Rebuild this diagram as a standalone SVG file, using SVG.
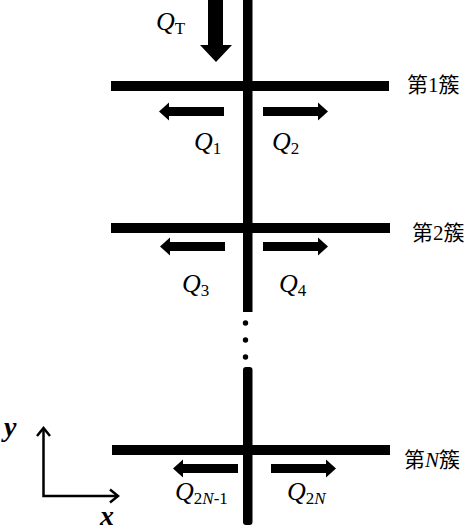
<svg xmlns="http://www.w3.org/2000/svg" width="474" height="532" viewBox="0 0 474 532">
<style>
.bar{fill:#000}
.q{font-family:"Liberation Serif",serif;font-style:italic;font-size:26px;fill:#000}
.sub{font-family:"Liberation Serif",serif;font-style:normal;font-size:17px}
.subi{font-family:"Liberation Serif",serif;font-style:italic;font-size:17px}
.cn{font-family:"Liberation Serif","Noto Sans CJK SC",sans-serif;font-size:21px;fill:#000}
.ax{font-family:"Liberation Serif",serif;font-style:italic;font-weight:bold;font-size:28px;fill:#000}
.axis{stroke:#000;stroke-width:2.5;fill:none}
</style>
<defs>
<path id="arrL" d="M0,0 L10,-9 L10,-4.5 L65,-4.5 L65,4.5 L10,4.5 L10,9 Z"/>
<path id="arrR" d="M65,0 L55,-9 L55,-4.5 L0,-4.5 L0,4.5 L55,4.5 L55,9 Z"/>
</defs>
<g id="connectors">
<rect class="bar" x="243" y="0" width="9.5" height="312"/>
<rect class="bar" x="243" y="367" width="9.5" height="158" rx="3"/>
<circle cx="245.5" cy="323" r="2.7"/>
<circle cx="245.5" cy="340" r="2.7"/>
<circle cx="245.5" cy="357" r="2.7"/>
</g>
<g id="inflow">
<path d="M208,0 L223,0 L223,45 L232,45 L216,62 L200,45 L208,45 Z"/>
<text class="q" x="156" y="30">Q<tspan class="sub" dy="4">T</tspan></text>
</g>
<g id="cluster1">
<rect class="bar" x="111" y="81" width="278" height="10"/>
<use href="#arrL" x="159" y="111.5"/>
<use href="#arrR" x="263" y="111.5"/>
<text class="q" x="194" y="150">Q<tspan class="sub" dy="4">1</tspan></text>
<text class="q" x="272" y="150">Q<tspan class="sub" dy="4">2</tspan></text>
<text class="cn" x="407" y="92">第1簇</text>
</g>
<g id="cluster2">
<rect class="bar" x="111" y="223" width="279" height="10"/>
<use href="#arrL" x="160" y="246.5"/>
<use href="#arrR" x="263" y="246.5"/>
<text class="q" x="182" y="292">Q<tspan class="sub" dy="4">3</tspan></text>
<text class="q" x="279" y="292">Q<tspan class="sub" dy="4">4</tspan></text>
<text class="cn" x="412" y="240">第2簇</text>
</g>
<g id="clusterN">
<rect class="bar" x="112" y="445" width="278" height="10"/>
<use href="#arrL" x="173" y="468.5"/>
<use href="#arrR" x="271" y="468.5"/>
<text class="q" x="175" y="500">Q<tspan class="sub" dy="4">2</tspan><tspan class="subi">N</tspan><tspan class="sub">-1</tspan></text>
<text class="q" x="287" y="500">Q<tspan class="sub" dy="4">2</tspan><tspan class="subi">N</tspan></text>
<text class="cn" x="404" y="467">第<tspan font-family="Liberation Serif" font-style="italic">N</tspan>簇</text>
</g>
<g id="axes">
<path class="axis" d="M43.5,428 L43.5,496 L118,496"/>
<path class="axis" d="M37,436 L43.5,428 L50,436"/>
<path class="axis" d="M110,489.5 L118,496 L110,502.5"/>
<text class="ax" x="4" y="436">y</text>
<text class="ax" x="100" y="525">x</text>
</g>
</svg>
